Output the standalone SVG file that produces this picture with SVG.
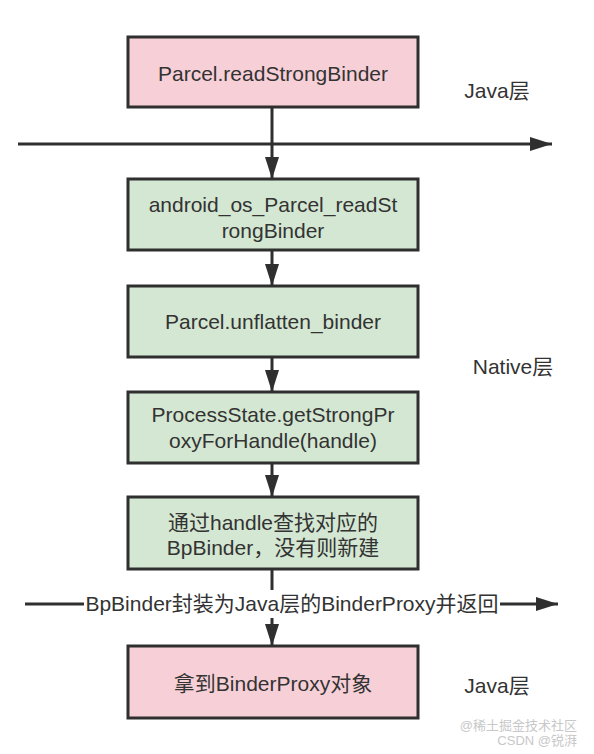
<svg xmlns="http://www.w3.org/2000/svg" width="594" height="754" viewBox="0 0 594 754">
<defs>
<style>
.box{stroke:#2f2f2f;stroke-width:3}
.pink{fill:#f7d0d7}
.green{fill:#d4e7d2}
.t{font-family:"Liberation Sans","Noto Sans CJK SC",sans-serif;font-size:21px;fill:#333;text-anchor:middle}
.lbl{font-family:"Liberation Sans","Noto Sans CJK SC",sans-serif;font-size:21px;fill:#333;text-anchor:middle}
.ln{stroke:#2f2f2f;stroke-width:3;fill:none}
.wm{font-family:"Liberation Sans","Noto Sans CJK SC",sans-serif;font-size:13px;fill:#c8c8c8;text-anchor:end}
</style>
<marker id="ah" viewBox="0 0 22 14" refX="22" refY="7" markerWidth="22" markerHeight="14" markerUnits="userSpaceOnUse" orient="auto">
<path d="M0,0 L22,7 L0,14 Z" fill="#2f2f2f"/>
</marker>
</defs>
<rect width="594" height="754" fill="#ffffff"/>
<g id="connectors">
<line class="ln" x1="18" y1="144" x2="552" y2="144" marker-end="url(#ah)"/>
<line class="ln" x1="272" y1="107" x2="272" y2="179" marker-end="url(#ah)"/>
<line class="ln" x1="272" y1="250" x2="272" y2="286" marker-end="url(#ah)"/>
<line class="ln" x1="272" y1="357" x2="272" y2="392" marker-end="url(#ah)"/>
<line class="ln" x1="272" y1="463" x2="272" y2="497" marker-end="url(#ah)"/>
<line class="ln" x1="272" y1="569" x2="272" y2="590"/>
<line class="ln" x1="272" y1="618" x2="272" y2="646" marker-end="url(#ah)"/>
<line class="ln" x1="25" y1="604" x2="84" y2="604"/>
<line class="ln" x1="500" y1="604" x2="558" y2="604" marker-end="url(#ah)"/>
<text class="lbl" x="292" y="611">BpBinder封装为Java层的BinderProxy并返回</text>
</g>
<g id="n1">
<rect class="box pink" x="128" y="37" width="290" height="70"/>
<text class="t" x="273" y="81">Parcel.readStrongBinder</text>
</g>
<g id="n2">
<rect class="box green" x="128" y="179" width="290" height="71"/>
<text class="t" x="273" y="212">android_os_Parcel_readSt</text>
<text class="t" x="273" y="238">rongBinder</text>
</g>
<g id="n3">
<rect class="box green" x="128" y="286" width="290" height="71"/>
<text class="t" x="273" y="329">Parcel.unflatten_binder</text>
</g>
<g id="n4">
<rect class="box green" x="128" y="392" width="290" height="71"/>
<text class="t" x="273" y="422">ProcessState.getStrongPr</text>
<text class="t" x="273" y="448">oxyForHandle(handle)</text>
</g>
<g id="n5">
<rect class="box green" x="128" y="497" width="290" height="72"/>
<text class="t" x="273" y="530">通过handle查找对应的</text>
<text class="t" x="273" y="555">BpBinder，没有则新建</text>
</g>
<g id="n6">
<rect class="box pink" x="128" y="646" width="290" height="72"/>
<text class="t" x="273" y="691">拿到BinderProxy对象</text>
</g>
<g id="layers">
<text class="t" x="497" y="98">Java层</text>
<text class="t" x="513" y="374">Native层</text>
<text class="t" x="497" y="693">Java层</text>
</g>
<g id="watermark">
<text class="wm" x="577" y="730">@稀土掘金技术社区</text>
<text class="wm" x="577" y="745">CSDN @锐湃</text>
</g>
</svg>
